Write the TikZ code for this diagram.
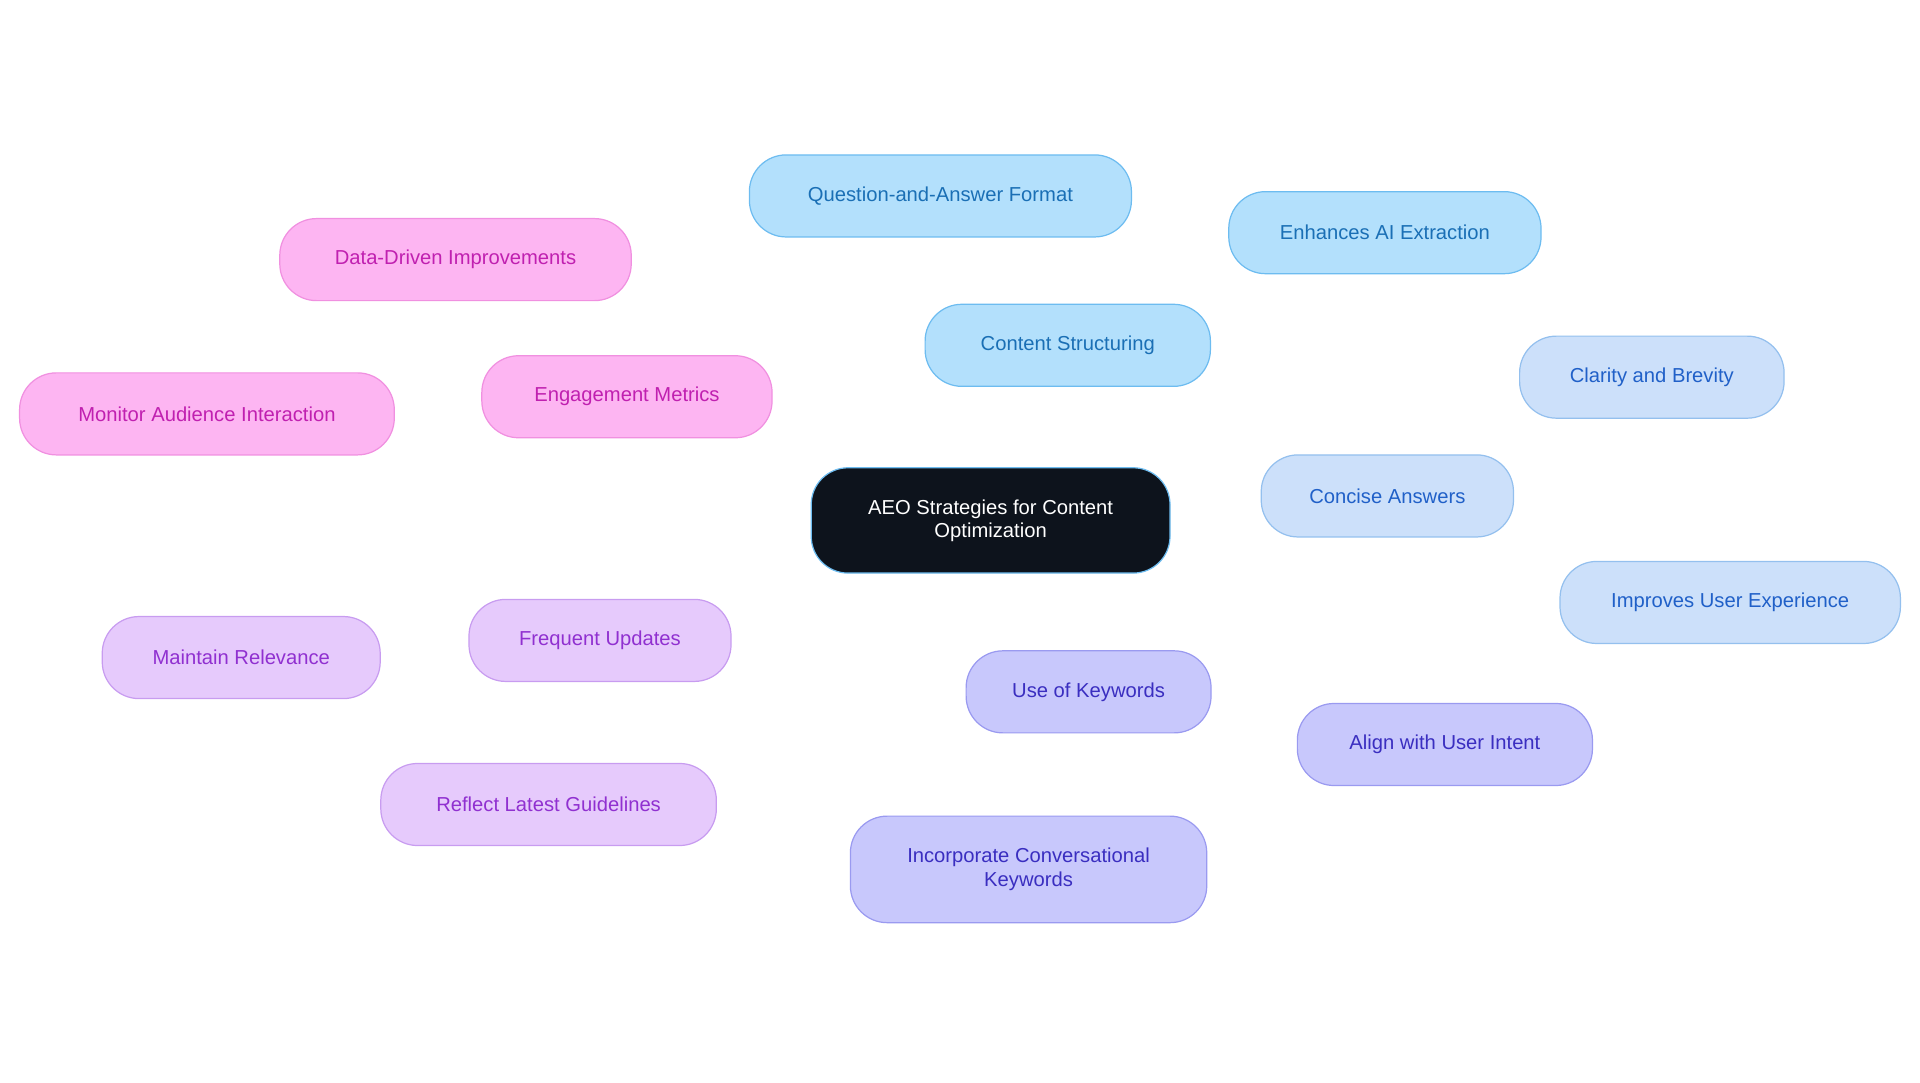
\documentclass[tikz,border=0pt]{standalone}
\usepackage{fontspec}
\setmainfont{Liberation Sans}
\begin{document}
\begin{tikzpicture}[x=1pt,y=-1pt,
 box/.style={draw,line width=1pt,rounded corners=30pt,align=center,font=\fontsize{16.5}{19}\selectfont,inner sep=0pt,minimum height=67pt},
 cs/.style={box,fill=csf,draw=csd,text=cst},
 ca/.style={box,fill=caf,draw=cad,text=cat},
 kw/.style={box,fill=kwf,draw=kwd,text=kwt},
 fu/.style={box,fill=fuf,draw=fud,text=fut},
 em/.style={box,fill=emf,draw=emd,text=emt},
 ln/.style={line width=2.4pt}]
\definecolor{csf}{HTML}{B3E0FC}\definecolor{csd}{HTML}{6DBCF0}\definecolor{cst}{HTML}{1A6FB5}
\definecolor{caf}{HTML}{CCE0FA}\definecolor{cad}{HTML}{94C0EE}\definecolor{cat}{HTML}{2060C8}
\definecolor{kwf}{HTML}{C8C8FC}\definecolor{kwd}{HTML}{9A9AF0}\definecolor{kwt}{HTML}{3A2EC0}
\definecolor{fuf}{HTML}{E6CAFC}\definecolor{fud}{HTML}{C89CF0}\definecolor{fut}{HTML}{9030D0}
\definecolor{emf}{HTML}{FDB5F2}\definecolor{emd}{HTML}{F090E0}\definecolor{emt}{HTML}{C020B0}
\definecolor{ctr}{HTML}{0D131C}
\useasboundingbox (0,0) rectangle (1568,884);
% edges first
\coordinate (C) at (809,425);
\node[box,fill=ctr,draw=csd,text=white,minimum width=293pt,minimum height=86pt] (c) at (809,425) {AEO Strategies for Content\\Optimization};
\node[cs,minimum width=233pt] (cs) at (872,282) {Content Structuring};
\node[cs,minimum width=312pt] (qa) at (768,160) {Question-and-Answer Format};
\node[cs,minimum width=255pt] (ai) at (1131,190) {Enhances AI Extraction};
\node[ca,minimum width=206pt] (ca) at (1133,405) {Concise Answers};
\node[ca,minimum width=216pt] (cb) at (1349,308) {Clarity and Brevity};
\node[ca,minimum width=278pt] (ux) at (1413,492) {Improves User Experience};
\node[kw,minimum width=200pt] (kw) at (889,565) {Use of Keywords};
\node[kw,minimum width=241pt] (ui) at (1180,608) {Align with User Intent};
\node[kw,minimum width=291pt,minimum height=87pt] (ck) at (840,710) {Incorporate Conversational\\Keywords};
\node[fu,minimum width=214pt] (fu) at (490,523) {Frequent Updates};
\node[fu,minimum width=227pt] (mr) at (197,537) {Maintain Relevance};
\node[fu,minimum width=274pt] (rl) at (448,657) {Reflect Latest Guidelines};
\node[em,minimum width=237pt] (em) at (512,324) {Engagement Metrics};
\node[em,minimum width=287pt] (dd) at (372,212) {Data-Driven Improvements};
\node[em,minimum width=306pt] (ma) at (169,338) {Monitor Audience Interaction};
\begin{scope}[on background layer/.style={}]
\end{scope}
\end{tikzpicture}
\end{document}
